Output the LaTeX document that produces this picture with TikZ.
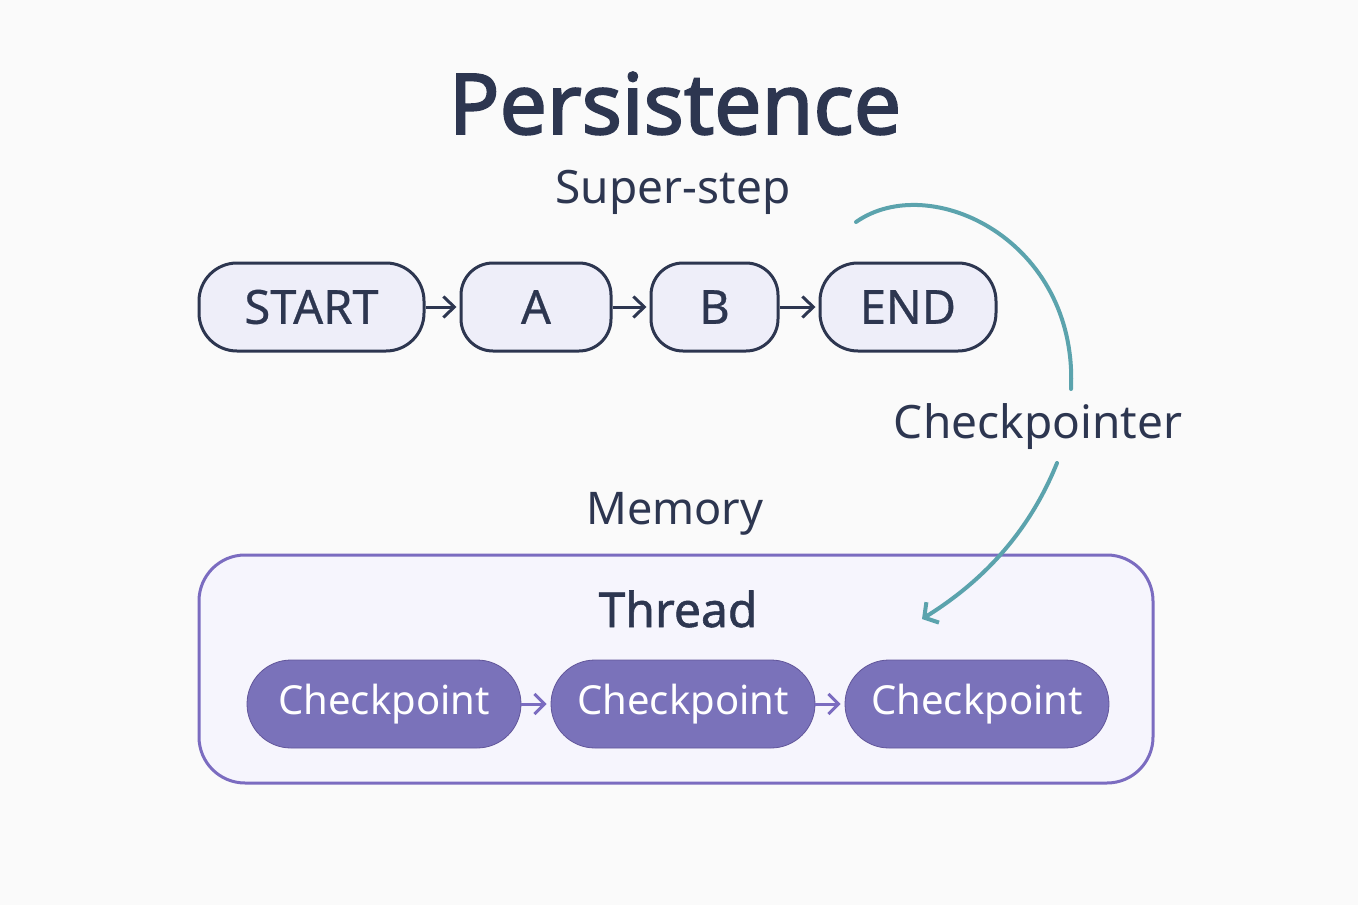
\documentclass[tikz,border=0pt]{standalone}
\usepackage{fontspec}
\setmainfont{Noto Sans}
\newfontfamily\heavyfont{Noto Sans}[FakeBold=2.2]
\newfontfamily\medfont{Noto Sans}[FakeBold=1.2]
\newfontfamily\lightmed{Noto Sans}[FakeBold=0.6]
\usetikzlibrary{arrows.meta}
\definecolor{bg}{HTML}{FAFAFA}
\definecolor{ink}{HTML}{2D3650}
\definecolor{nodefill}{HTML}{EEEEF9}
\definecolor{memfill}{HTML}{F6F5FD}
\definecolor{purp}{HTML}{7B6CC0}
\definecolor{cpfill}{HTML}{7A72BA}
\definecolor{teal}{HTML}{5BA3AD}
\tikzset{
  stepbox/.style={draw=ink, line width=3pt, fill=nodefill, rounded corners=38pt,
    minimum height=88pt, inner sep=0pt, text=ink, font=\lightmed\fontsize{47}{52}\selectfont},
  cpbox/.style={fill=cpfill, draw=purp!80!black, line width=0.8pt, rounded corners=44pt,
    minimum height=88pt, inner sep=0pt, text=white, font=\fontsize{40}{46}\selectfont},
  darrow/.style={draw=ink, line width=3pt, shorten >=3pt,
    -{Straight Barb[length=11pt,width=21pt,line width=3pt]}},
  parrow/.style={draw=purp, line width=3pt, shorten >=4pt,
    -{Straight Barb[length=10pt,width=20pt,line width=3pt]}},
  tarrow/.style={draw=teal, line width=4pt, line cap=round},
  lbl/.style={text=ink, inner sep=0pt, anchor=base},
}
\begin{document}
\begin{tikzpicture}[x=1pt,y=-1pt]
\useasboundingbox (0,0) rectangle (1358,905);
\fill[bg] (0,0) rectangle (1358,905);

\node[lbl, font=\heavyfont\fontsize{84}{92}\selectfont] (title) at (675,134) {Persistence};
\node[lbl, font=\fontsize{46}{52}\selectfont] (super) at (673,203) {Super-step};

\node[stepbox, minimum width=225pt] (start) at (311.5,307) {START};
\node[stepbox, minimum width=150pt, rounded corners=32pt] (a) at (536,307) {A};
\node[stepbox, minimum width=127pt, rounded corners=32pt] (b) at (714.5,307) {B};
\node[stepbox, minimum width=176pt] (end) at (908,307) {END};
\draw[darrow] (start) -- (a);
\draw[darrow] (a) -- (b);
\draw[darrow] (b) -- (end);

\node[lbl, font=\fontsize{46}{52}\selectfont] (cpr) at (1038,438) {Checkpointer};
\node[lbl, font=\fontsize{45}{50}\selectfont] (memory) at (675,524) {Memory};

\draw[draw=purp, line width=3pt, fill=memfill, rounded corners=46pt] (199,555) rectangle (1153,783);
\node[lbl, font=\medfont\fontsize{48}{54}\selectfont] (thread) at (678,627) {Thread};

\node[cpbox, minimum width=274pt] (c1) at (384,704) {Checkpoint};
\node[cpbox, minimum width=264pt] (c2) at (683,704) {Checkpoint};
\node[cpbox, minimum width=264pt] (c3) at (977,704) {Checkpoint};
\draw[parrow] (c1) -- (c2);
\draw[parrow] (c2) -- (c3);

\coordinate (t1) at (856,222);
\coordinate (t2) at (1071,389);
\coordinate (t3) at (1057,463);
\coordinate (t4) at (922,619);
\draw[tarrow] (t1) .. controls (930,170) and (1078,240) .. (t2);
\draw[tarrow, -{Straight Barb[length=10pt,width=24pt,line width=4pt]}] (t3) .. controls (1030,530) and (985,580) .. (t4);
\end{tikzpicture}
\end{document}
